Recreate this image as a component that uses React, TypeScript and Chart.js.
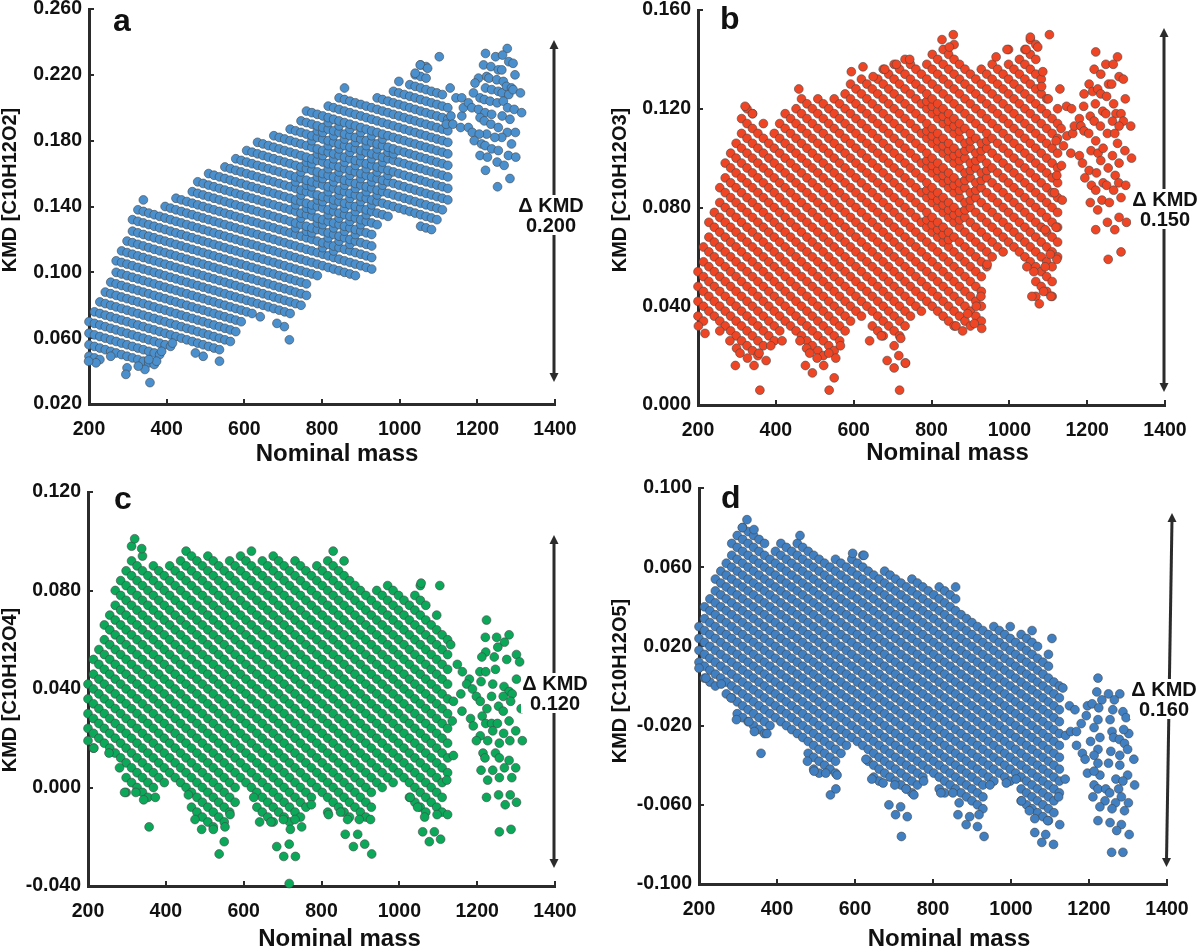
import React, { useEffect, useRef } from "react";
import { Chart, registerables } from "chart.js";

Chart.register(...registerables);

const massColumns = [200,214,228,242,256,270,284,298,312,326,340,354,368,382,396,410,424,438,452,466,480,494,508,522,536,550,564,578,592,606,620,634,648,662,676,690,704,718,732,746,760,774,788,802,816,830,844,858,872,886,900,914,928,942,956,970,984,998,1012,1026,1040,1054,1068,1082,1096,1110,1124];

// KMD values, in thousandths, one list per nominal-mass column
const kmdColumnsA = [
[49,56,63,70],[48,55,62,69,76],[47,54,61,68,75,82],[53,60,67,74,81,88],[52,59,66,73,80,87,94],[51,58,65,72,79,86,93,100,107],[50,57,64,71,78,85,92,99,106,113],[42,49,56,63,70,77,84,91,98,105,112,119],[48,55,62,69,76,83,90,97,104,111,118,125,132],[47,54,61,68,75,82,89,96,103,110,117,124,131,138],[46,53,60,67,74,81,88,95,102,109,116,123,130,137,144],[45,52,59,66,73,80,87,94,101,108,115,122,129,136],[44,51,58,65,72,79,86,93,100,107,114,121,128,135],[50,57,64,71,78,85,92,99,106,113,120,127,134],[56,63,70,77,84,91,98,105,112,119,126,133,140],[55,62,69,76,83,90,97,104,111,118,125,132,139],[61,68,75,82,89,96,103,110,117,124,131,138,145],[60,67,74,81,88,95,102,109,116,123,130,137,144],[59,66,73,80,87,94,101,108,115,122,129,136,143],[58,65,72,79,86,93,100,107,114,121,128,135,142,149],[57,64,71,78,85,92,99,106,113,120,127,134,141,148,155],[56,63,70,77,84,91,98,105,112,119,126,133,140,147,154],[55,62,69,76,83,90,97,104,111,118,125,132,139,146,153,160],[54,61,68,75,82,89,96,103,110,117,124,131,138,145,152,159],[53,60,67,74,81,88,95,102,109,116,123,130,137,144,151,158],[59,66,73,80,87,94,101,108,115,122,129,136,143,150,157,164],[58,65,72,79,86,93,100,107,114,121,128,135,142,149,156,163],[64,71,78,85,92,99,106,113,120,127,134,141,148,155,162,169],[70,77,84,91,98,105,112,119,126,133,140,147,154,161,168],[76,83,90,97,104,111,118,125,132,139,146,153,160,167,174],[75,82,89,96,103,110,117,124,131,138,145,152,159,166,173],[81,88,95,102,109,116,123,130,137,144,151,158,165,172,179],[80,87,94,101,108,115,122,129,136,143,150,157,164,171,178],[79,86,93,100,107,114,121,128,135,142,149,156,163,170,177],[78,85,92,99,106,113,120,127,134,141,148,155,162,169,176,183],[77,84,91,98,105,112,119,126,133,140,147,154,161,168,175,182],[76,83,90,97,104,111,118,125,132,139,146,153,160,167,174,181],[75,82,89,96,103,110,117,124,131,138,145,152,159,166,173,180,187],[81,88,95,102,109,116,123,127,130,137,141,144,151,155,158,165,172,179,186],[80,87,94,101,108,115,122,129,133,136,143,147,150,157,161,164,171,178,185,192],[86,93,100,107,114,121,125,128,135,139,142,149,153,156,163,167,170,177,184,191,198],[99,106,113,120,124,127,134,138,141,148,152,155,162,166,169,176,180,183,190,197],[98,105,112,119,126,130,133,140,144,147,154,158,161,168,172,175,182,186,189,196],[104,111,115,118,125,129,132,139,143,146,153,157,160,167,171,174,181,185,188,195],[103,110,117,121,124,131,135,138,145,149,152,159,163,166,173,177,180,187,191,194,201],[102,109,113,116,123,127,130,137,141,144,151,155,158,165,169,172,179,183,186,193,200],[101,108,115,119,122,129,133,136,143,147,150,157,161,164,171,175,178,185,189,192,199,206],[100,107,114,121,125,128,135,139,142,149,153,156,163,167,170,177,181,184,191,198,205,212],[99,106,113,117,120,127,131,134,141,145,148,155,159,162,169,173,176,183,187,190,197,204],[98,105,112,119,123,126,133,137,140,147,151,154,161,165,168,175,179,182,189,196,203],[104,111,118,125,129,132,139,143,146,153,157,160,167,171,174,181,185,188,195,202],[103,110,117,124,131,135,138,145,149,152,159,163,166,173,177,180,187,194,201],[102,109,116,123,130,137,141,144,151,155,158,165,169,172,179,183,186,193,200],[129,136,143,147,150,157,161,164,171,175,178,185,192,199,206],[135,142,149,153,156,163,167,170,177,181,184,191,198,205],[134,141,148,155,159,162,169,173,176,183,190,197,204],[140,147,154,161,168,172,175,182,189,196,203,210],[139,146,153,160,167,174,181,188,195,202,209,216],[138,145,152,159,166,173,180,187,194,201,208],[137,144,151,158,165,172,179,186,193,200,207,214],[136,143,150,157,164,171,178,185,192,199,206,213,220],[128,135,142,149,156,163,170,177,184,191,198,205,212,219,226],[127,134,141,148,155,162,169,176,183,190,197,204,211,218,225],[126,133,140,147,154,161,168,175,182,189,196,203,210],[132,139,146,153,160,167,174,181,188,195,202,209],[138,145,152,159,166,173,180,187,194,201,208],[144,151,158,165,172,179,186,193,200],
];

const kmdColumnsB = [
[36,42,48,54],[34,40,46,52,58,64],[38,44,50,56,62,68,74],[36,42,48,54,60,66,72,78],[34,40,46,52,58,64,70,76,82,88],[32,38,44,50,56,62,68,74,80,86,92,98],[30,36,42,48,54,60,66,72,78,84,90,96,102],[28,34,40,46,52,58,64,70,76,82,88,94,100,106],[26,32,38,44,50,56,62,68,74,80,86,92,98,104,110,116],[24,30,36,42,48,54,60,66,72,78,84,90,96,102,108,114,120],[22,28,34,40,46,52,58,64,70,76,82,88,94,100,106,112,118],[20,26,32,38,44,50,56,62,68,74,80,86,92,98,104,110],[24,30,36,42,48,54,60,66,72,78,84,90,96,102,108,114],[28,34,40,46,52,58,64,70,76,82,88,94,100,106],[26,32,38,44,50,56,62,68,74,80,86,92,98,104,110],[30,36,42,48,54,60,66,72,78,84,90,96,102,108,114],[34,40,46,52,58,64,70,76,82,88,94,100,106,112,118],[32,38,44,50,56,62,68,74,80,86,92,98,104,110,116],[30,36,42,48,54,60,66,72,78,84,90,96,102,108,114,120],[28,34,40,46,52,58,64,70,76,82,88,94,100,106,112,118,124],[26,32,38,44,50,56,62,68,74,80,86,92,98,104,110,116,122],[24,30,36,42,48,54,60,66,72,78,84,90,96,102,108,114,120],[22,28,34,40,46,52,58,64,70,76,82,88,94,100,106,112,118,124],[20,26,32,38,44,50,56,62,68,74,80,86,92,98,104,110,116,122],[24,30,36,42,48,54,60,66,72,78,84,90,96,102,108,114,120],[22,28,34,40,46,52,58,64,70,76,82,88,94,100,106,112,118,124],[26,32,38,44,50,56,62,68,74,80,86,92,98,104,110,116,122],[30,36,42,48,54,60,66,72,78,84,90,96,102,108,114,120,126],[34,40,46,52,58,64,70,76,82,88,94,100,106,112,118,124,130],[38,44,50,56,62,68,74,80,86,92,98,104,110,116,122,128],[36,42,48,54,60,66,72,78,84,90,96,102,108,114,120,126,132],[40,46,52,58,64,70,76,82,88,94,100,106,112,118,124,130],[32,38,44,50,56,62,68,74,80,86,92,98,104,110,116,122,128],[30,36,42,48,54,60,66,72,78,84,90,96,102,108,114,120,126,132],[28,34,40,46,52,58,64,70,76,82,88,94,100,106,112,118,124,130,136],[32,38,44,50,56,62,68,74,80,86,92,98,104,110,116,122,128,134],[24,30,36,42,48,54,60,66,72,78,84,90,96,102,108,114,120,126,132,138],[28,34,40,46,52,58,64,70,76,82,88,94,100,106,112,118,124,130,136],[32,38,44,50,56,62,68,74,80,86,92,98,104,110,116,122,128,134,140],[36,42,48,54,60,66,72,78,84,90,96,102,108,114,120,126,132,138],[40,46,52,58,64,70,76,82,88,94,100,106,112,118,124,130,136],[38,44,50,56,62,68,74,80,86,92,98,104,110,116,122,128,134],[42,48,54,60,66,72,75,78,84,87,90,96,99,102,108,111,114,120,123,126,132,138],[40,46,52,58,64,70,73,76,82,85,88,94,97,100,106,109,112,118,121,124,130,136,142],[38,44,50,56,62,68,71,74,80,83,86,92,95,98,104,107,110,116,119,122,128,134,140],[36,42,48,54,60,66,69,72,78,81,84,90,93,96,102,105,108,114,117,120,126,132,138,144],[34,40,46,52,58,64,67,70,76,79,82,88,91,94,100,103,106,112,115,118,124,130,136,142],[32,38,44,50,56,62,68,74,77,80,86,89,92,98,101,104,110,113,116,122,128,134,140,146],[36,42,48,54,60,66,72,75,78,84,87,90,96,99,102,108,111,114,120,126,132,138],[34,40,46,52,58,64,70,76,79,82,88,91,94,100,103,106,112,118,124,130,136],[32,38,44,50,56,62,68,74,80,83,86,92,95,98,104,107,110,116,122,128,134],[36,42,48,54,60,66,72,78,84,87,90,96,99,102,108,114,120,126,132],[34,40,46,52,58,64,70,76,82,88,91,94,100,103,106,112,118,124,130,136],[56,62,68,74,80,86,92,95,98,104,107,110,116,122,128,134],[60,66,72,78,84,90,96,102,108,114,120,126,132,138],[64,70,76,82,88,94,100,106,112,118,124,130,136],[62,68,74,80,86,92,98,104,110,116,122,128,134],[66,72,78,84,90,96,102,108,114,120,126,132,138,144],[64,70,76,82,88,94,100,106,112,118,124,130,136],[62,68,74,80,86,92,98,104,110,116,122,128,134,140],[60,66,72,78,84,90,96,102,108,114,120,126,132,138,144],[58,64,70,76,82,88,94,100,106,112,118,124,130,136,142,148],[44,50,56,62,68,74,80,86,92,98,104,110,116,122,128,134,140,146],[48,54,60,66,72,78,84,90,96,102,108,114,120,126,132],[46,52,58,64,70,76,82,88,94,100,106,112,118,124],[44,50,56,62,68,74,80,86,92,98,104,110,116],[60,66,72,78,84,90,96,102,108,114,120],
];

const kmdColumnsC = [
[24,30,36,42],[16,22,28,34,40,46,52],[20,26,32,38,44,50,56],[18,24,30,36,42,48,54,60,66],[16,22,28,34,40,46,52,58,64,70],[14,20,26,32,38,44,50,56,62,68,74,80],[12,18,24,30,36,42,48,54,60,66,72,78,84],[-2,4,10,16,22,28,34,40,46,52,58,64,70,76,82,88],[2,8,14,20,26,32,38,44,50,56,62,68,74,80,86,92,98],[0,6,12,18,24,30,36,42,48,54,60,66,72,78,84,90],[-2,4,10,16,22,28,34,40,46,52,58,64,70,76,82,88,94],[-4,2,8,14,20,26,32,38,44,50,56,62,68,74,80,86],[0,6,12,18,24,30,36,42,48,54,60,66,72,78,84,90],[4,10,16,22,28,34,40,46,52,58,64,70,76,82,88],[2,8,14,20,26,32,38,44,50,56,62,68,74,80,86],[6,12,18,24,30,36,42,48,54,60,66,72,78,84,90],[4,10,16,22,28,34,40,46,52,58,64,70,76,82,88],[2,8,14,20,26,32,38,44,50,56,62,68,74,80,86,92],[0,6,12,18,24,30,36,42,48,54,60,66,72,78,84,90,96],[-8,-2,4,10,16,22,28,34,40,46,52,58,64,70,76,82,88,94],[-10,-4,2,8,14,20,26,32,38,44,50,56,62,68,74,80,86,92],[-12,-6,0,6,12,18,24,30,36,42,48,54,60,66,72,78,84,90],[-14,-8,-2,4,10,16,22,28,34,40,46,52,58,64,70,76,82,88,94],[-16,-10,-4,2,8,14,20,26,32,38,44,50,56,62,68,74,80,86,92],[-12,-6,0,6,12,18,24,30,36,42,48,54,60,66,72,78,84,90],[-14,-8,-2,4,10,16,22,28,34,40,46,52,58,64,70,76,82,88],[-10,-4,2,8,14,20,26,32,38,44,50,56,62,68,74,80,86,92],[-6,0,6,12,18,24,30,36,42,48,54,60,66,72,78,84,90],[4,10,16,22,28,34,40,46,52,58,64,70,76,82,88,94],[2,8,14,20,26,32,38,44,50,56,62,68,74,80,86,92],[0,6,12,18,24,30,36,42,48,54,60,66,72,78,84,90,96],[-8,-2,4,10,16,22,28,34,40,46,52,58,64,70,76,82,88],[-10,-4,2,8,14,20,26,32,38,44,50,56,62,68,74,80,86,92],[-12,-6,0,6,12,18,24,30,36,42,48,54,60,66,72,78,84,90],[-14,-8,-2,4,10,16,22,28,34,40,46,52,58,64,70,76,82,88,94],[-10,-4,2,8,14,20,26,32,38,44,50,56,62,68,74,80,86,92],[-12,-6,0,6,12,18,24,30,36,42,48,54,60,66,72,78,84,90],[-14,-8,-2,4,10,16,22,28,34,40,46,52,58,64,70,76,82,88],[-10,-4,2,8,14,20,26,32,38,44,50,56,62,68,74,80,86,92],[-12,-6,0,6,12,18,24,30,36,42,48,54,60,66,72,78,84,90],[-8,-2,4,10,16,22,28,34,40,46,52,58,64,70,76,82,88],[-4,2,8,14,20,26,32,38,44,50,56,62,68,74,80,86],[0,6,12,18,24,30,36,42,48,54,60,66,72,78,84,90],[-2,4,10,16,22,28,34,40,46,52,58,64,70,76,82,88],[-10,-4,2,8,14,20,26,32,38,44,50,56,62,68,74,80,86,92],[-6,0,6,12,18,24,30,36,42,48,54,60,66,72,78,84,90,96],[-8,-2,4,10,16,22,28,34,40,46,52,58,64,70,76,82,88],[-10,-4,2,8,14,20,26,32,38,44,50,56,62,68,74,80,86,92],[-12,-6,0,6,12,18,24,30,36,42,48,54,60,66,72,78,84],[-8,-2,4,10,16,22,28,34,40,46,52,58,64,70,76,82],[-10,-4,2,8,14,20,26,32,38,44,50,56,62,68,74,80],[-12,-6,0,6,12,18,24,30,36,42,48,54,60,66,72,78],[-8,-2,4,10,16,22,28,34,40,46,52,58,64,70,76],[2,8,14,20,26,32,38,44,50,56,62,68,74,80],[0,6,12,18,24,30,36,42,48,54,60,66,72,78],[4,10,16,22,28,34,40,46,52,58,64,70,76,82],[2,8,14,20,26,32,38,44,50,56,62,68,74,80],[6,12,18,24,30,36,42,48,54,60,66,72,78],[4,10,16,22,28,34,40,46,52,58,64,70,76],[-4,2,8,14,20,26,32,38,44,50,56,62,68,74],[-6,0,6,12,18,24,30,36,42,48,54,60,66,72,78],[-8,-2,4,10,16,22,28,34,40,46,52,58,64,70,76,82],[-10,-4,2,8,14,20,26,32,38,44,50,56,62,68,74],[-6,0,6,12,18,24,30,36,42,48,54,60,66],[-8,-2,4,10,16,22,28,34,40,46,52,58,64,70],[-10,-4,2,8,14,20,26,32,38,44,50,56,62],[6,12,18,24,30,36,42,48,54,60],
];

const kmdColumnsD = [
[12,18,24,30],[4,10,16,22,28,34,40],[2,8,14,20,26,32,38,44],[0,6,12,18,24,30,36,42,48,54],[4,10,16,22,28,34,40,46,52,58],[-4,2,8,14,20,26,32,38,44,50,56,62],[-6,0,6,12,18,24,30,36,42,48,54,60,66,72],[-14,-8,-2,4,10,16,22,28,34,40,46,52,58,64,70,76],[-16,-10,-4,2,8,14,20,26,32,38,44,50,56,62,68,74,80],[-18,-12,-6,0,6,12,18,24,30,36,42,48,54,60,66,72,78],[-20,-14,-8,-2,4,10,16,22,28,34,40,46,52,58,64,70,76],[-22,-16,-10,-4,2,8,14,20,26,32,38,44,50,56,62,68,74],[-24,-18,-12,-6,0,6,12,18,24,30,36,42,48,54,60,66,72],[-20,-14,-8,-2,4,10,16,22,28,34,40,46,52,58,64],[-16,-10,-4,2,8,14,20,26,32,38,44,50,56,62,68],[-18,-12,-6,0,6,12,18,24,30,36,42,48,54,60,66,72],[-20,-14,-8,-2,4,10,16,22,28,34,40,46,52,58,64,70],[-22,-16,-10,-4,2,8,14,20,26,32,38,44,50,56,62,68],[-24,-18,-12,-6,0,6,12,18,24,30,36,42,48,54,60,66,72],[-26,-20,-14,-8,-2,4,10,16,22,28,34,40,46,52,58,64,70],[-34,-28,-22,-16,-10,-4,2,8,14,20,26,32,38,44,50,56,62,68],[-42,-36,-30,-24,-18,-12,-6,0,6,12,18,24,30,36,42,48,54,60,66],[-44,-38,-32,-26,-20,-14,-8,-2,4,10,16,22,28,34,40,46,52,58,64],[-40,-34,-28,-22,-16,-10,-4,2,8,14,20,26,32,38,44,50,56,62],[-42,-36,-30,-24,-18,-12,-6,0,6,12,18,24,30,36,42,48,54,60],[-44,-38,-32,-26,-20,-14,-8,-2,4,10,16,22,28,34,40,46,52,58,64],[-34,-28,-22,-16,-10,-4,2,8,14,20,26,32,38,44,50,56,62],[-30,-24,-18,-12,-6,0,6,12,18,24,30,36,42,48,54,60],[-26,-20,-14,-8,-2,4,10,16,22,28,34,40,46,52,58,64],[-28,-22,-16,-10,-4,2,8,14,20,26,32,38,44,50,56,62],[-30,-24,-18,-12,-6,0,6,12,18,24,30,36,42,48,54,60,66],[-38,-32,-26,-20,-14,-8,-2,4,10,16,22,28,34,40,46,52,58],[-46,-40,-34,-28,-22,-16,-10,-4,2,8,14,20,26,32,38,44,50,56],[-48,-42,-36,-30,-24,-18,-12,-6,0,6,12,18,24,30,36,42,48,54],[-44,-38,-32,-26,-20,-14,-8,-2,4,10,16,22,28,34,40,46,52,58],[-46,-40,-34,-28,-22,-16,-10,-4,2,8,14,20,26,32,38,44,50,56],[-48,-42,-36,-30,-24,-18,-12,-6,0,6,12,18,24,30,36,42,48,54],[-50,-44,-38,-32,-26,-20,-14,-8,-2,4,10,16,22,28,34,40,46,52],[-52,-46,-40,-34,-28,-22,-16,-10,-4,2,8,14,20,26,32,38,44,50],[-54,-48,-42,-36,-30,-24,-18,-12,-6,0,6,12,18,24,30,36,42,48,54],[-50,-44,-38,-32,-26,-20,-14,-8,-2,4,10,16,22,28,34,40,46,52],[-46,-40,-34,-28,-22,-16,-10,-4,2,8,14,20,26,32,38,44,50],[-42,-36,-30,-24,-18,-12,-6,0,6,12,18,24,30,36,42,48],[-44,-38,-32,-26,-20,-14,-8,-2,4,10,16,22,28,34,40,46],[-52,-46,-40,-34,-28,-22,-16,-10,-4,2,8,14,20,26,32,38,44,50],[-54,-48,-42,-36,-30,-24,-18,-12,-6,0,6,12,18,24,30,36,42,48],[-50,-44,-38,-32,-26,-20,-14,-8,-2,4,10,16,22,28,34,40,46],[-52,-46,-40,-34,-28,-22,-16,-10,-4,2,8,14,20,26,32,38,44,50],[-54,-48,-42,-36,-30,-24,-18,-12,-6,0,6,12,18,24,30,36],[-56,-50,-44,-38,-32,-26,-20,-14,-8,-2,4,10,16,22,28,34],[-58,-52,-46,-40,-34,-28,-22,-16,-10,-4,2,8,14,20,26,32],[-60,-54,-48,-42,-36,-30,-24,-18,-12,-6,0,6,12,18,24,30],[-62,-56,-50,-44,-38,-32,-26,-20,-14,-8,-2,4,10,16,22,28],[-46,-40,-34,-28,-22,-16,-10,-4,2,8,14,20,26],[-48,-42,-36,-30,-24,-18,-12,-6,0,6,12,18,24,30],[-44,-38,-32,-26,-20,-14,-8,-2,4,10,16,22,28],[-46,-40,-34,-28,-22,-16,-10,-4,2,8,14,20,26],[-48,-42,-36,-30,-24,-18,-12,-6,0,6,12,18,24,30],[-44,-38,-32,-26,-20,-14,-8,-2,4,10,16,22],[-58,-52,-46,-40,-34,-28,-22,-16,-10,-4,2,8,14,20,26],[-60,-54,-48,-42,-36,-30,-24,-18,-12,-6,0,6,12,18,24],[-62,-56,-50,-44,-38,-32,-26,-20,-14,-8,-2,4,10,16,22,28],[-64,-58,-52,-46,-40,-34,-28,-22,-16,-10,-4,2,8,14,20],[-66,-60,-54,-48,-42,-36,-30,-24,-18,-12,-6,0,6,12],[-68,-62,-56,-50,-44,-38,-32,-26,-20,-14,-8,-2,4,10,16],[-64,-58,-52,-46,-40,-34,-28,-22,-16,-10,-4,2],[-54,-48,-42,-36,-30,-24,-18,-12,-6,0],
];

// Separately read points: outliers, the bridge and the island at high mass [mass, KMD thousandths]
const separateA = [[357,33],[295,38],[256,49],[218,45],[199,46],[344,41],[327,43],[536,46],[494,49],[474,51],[716,59],[703,67],[684,69],[641,73],[415,57],[387,52],[374,46],[354,47],[1102,231],[1053,226],[1072,224],[1040,221],[1130,212],[1145,206],[1160,206],[1132,195],[1160,195],[1120,190],[1137,190],[1157,188],[1164,200],[1177,203],[1186,200],[1177,188],[1187,185],[1221,233],[1277,236],[1247,231],[1265,232],[1281,228],[1292,227],[1216,226],[1235,225],[1254,223],[1263,223],[1297,220],[1203,218],[1194,215],[1224,219],[1230,218],[1250,217],[1267,216],[1221,212],[1237,211],[1254,210],[1264,209],[1275,213],[1288,212],[1281,208],[1292,211],[1311,209],[1190,209],[1207,206],[1218,205],[1233,204],[1251,203],[1267,204],[1278,200],[1295,199],[1314,197],[1203,199],[1220,197],[1237,196],[1264,195],[1284,193],[1207,194],[1218,192],[1235,190],[1254,188],[1277,185],[1298,185],[1263,182],[1288,178],[1245,182],[1224,184],[1205,184],[1192,180],[1211,178],[1220,177],[1237,175],[1254,174],[1207,171],[1226,170],[1280,171],[1299,170],[1251,167],[1269,165],[1221,162],[1284,157],[1252,152]];
const separateB = [[201,32],[218,29],[256,30],[282,26],[299,23],[308,21],[296,16],[327,19],[344,16],[375,18],[357,21],[387,24],[359,6],[416,26],[462,26],[479,23],[487,21],[506,19],[523,16],[476,16],[494,13],[554,19],[536,21],[566,24],[550,11],[537,6],[641,26],[671,28],[686,18],[704,15],[716,20],[733,17],[718,6],[733,17],[721,27],[321,121],[340,118],[459,128],[594,135],[624,137],[650,133],[680,136],[710,138],[744,140],[856,150],[827,148],[846,145],[966,141],[994,144],[1043,144],[1054,149],[1103,150],[1073,145],[1086,135],[1100,124],[1083,129],[943,57],[927,44],[915,40],[893,37],[910,33],[929,31],[863,32],[880,30],[1122,59],[1105,61],[1092,56],[1063,54],[1045,56],[1088,46],[1107,44],[1077,41],[1058,44],[1130,128],[1147,121],[1160,120],[1133,112],[1148,109],[1163,110],[1120,107],[1139,105],[1134,97],[1122,93],[1136,83],[1116,86],[1120,72],[1092,71],[1222,143],[1278,141],[1248,138],[1267,138],[1218,136],[1235,134],[1255,130],[1263,130],[1282,133],[1293,132],[1205,130],[1192,126],[1214,127],[1227,128],[1235,126],[1250,125],[1298,124],[1268,122],[1221,122],[1191,121],[1240,119],[1248,118],[1274,118],[1287,118],[1208,117],[1265,115],[1293,115],[1218,115],[1234,113],[1282,113],[1312,113],[1180,116],[1167,113],[1184,113],[1192,111],[1204,110],[1252,110],[1271,110],[1222,107],[1278,106],[1210,103],[1228,102],[1241,104],[1265,101],[1297,103],[1314,100],[1158,102],[1180,101],[1188,98],[1235,99],[1282,98],[1205,95],[1224,94],[1254,96],[1272,93],[1194,92],[1241,90],[1250,89],[1281,90],[1299,89],[1211,89],[1222,87],[1268,87],[1287,84],[1238,83],[1208,82],[1257,82],[1227,79],[1282,76],[1252,74],[1301,74],[1271,71],[1222,71],[1287,62],[1254,59]];
const separateC = [[200,19],[215,16],[254,14],[281,8],[294,-2],[323,-2],[343,-5],[373,-4],[357,-16],[320,101],[338,97],[458,-3],[475,-13],[492,-17],[522,-17],[552,-16],[550,-22],[537,-27],[565,-11],[626,-4],[641,-14],[670,-14],[702,-13],[732,-13],[749,-16],[720,-17],[685,-24],[717,-23],[703,-28],[733,-28],[717,-39],[774,-7],[818,-11],[849,-10],[867,-13],[897,-13],[926,-13],[861,-19],[893,-19],[882,-24],[911,-23],[929,-27],[1028,-4],[1047,-8],[1065,-12],[1097,-11],[1124,-11],[1060,-18],[1090,-18],[1077,-22],[1106,-21],[1104,82],[1056,83],[1132,58],[1149,50],[1136,27],[1161,31],[1139,35],[1139,13],[1122,3],[1162,47],[1224,68],[1221,61],[1250,61],[1282,62],[1270,59],[1253,57],[1222,55],[1212,53],[1244,53],[1276,52],[1301,54],[1309,51],[1207,47],[1247,48],[1222,47],[1180,44],[1210,43],[1240,42],[1269,41],[1301,44],[1282,39],[1290,38],[1173,42],[1188,40],[1158,38],[1198,37],[1208,35],[1267,37],[1237,37],[1286,35],[1255,33],[1313,32],[1225,32],[1267,31],[1213,29],[1183,28],[1282,27],[1222,26],[1237,26],[1252,26],[1190,25],[1299,23],[1240,23],[1268,22],[1208,21],[1198,19],[1227,19],[1257,18],[1316,19],[1284,19],[1215,14],[1247,14],[1220,12],[1257,12],[1282,11],[1299,8],[1270,8],[1210,7],[1240,7],[1227,3],[1257,4],[1289,4],[1224,-4],[1255,-3],[1285,-3],[1272,-7],[1301,-6],[1257,-18],[1287,-17]];
const separateD = [[200,9],[218,4],[257,1],[282,-6],[296,-17],[328,-18],[342,-23],[374,-24],[359,-34],[311,80],[323,84],[341,79],[459,76],[594,67],[623,66],[478,-38],[495,-43],[525,-44],[554,-45],[537,-55],[551,-52],[628,-37],[643,-47],[672,-49],[702,-50],[731,-52],[776,-48],[687,-60],[717,-61],[704,-65],[734,-66],[719,-76],[751,-55],[820,-54],[851,-54],[867,-59],[864,-65],[894,-66],[885,-70],[914,-71],[931,-76],[918,-65],[946,-50],[988,-49],[1013,-47],[1027,-58],[1047,-63],[1061,-67],[1094,-68],[1125,-70],[1061,-74],[1089,-75],[1079,-79],[1109,-80],[1122,-56],[1139,-47],[1105,24],[1133,-1],[1150,-10],[1164,-12],[1140,-25],[1153,-23],[1168,-23],[1180,-19],[1168,-30],[1193,-15],[1183,-34],[1190,-37],[1223,4],[1220,-3],[1196,-10],[1208,-9],[1233,-7],[1250,-4],[1279,-4],[1265,-7],[1225,-11],[1261,-12],[1287,-13],[1295,-16],[1254,-17],[1223,-17],[1302,-24],[1259,-23],[1289,-22],[1213,-21],[1204,-28],[1228,-26],[1263,-26],[1278,-27],[1291,-29],[1223,-32],[1256,-33],[1299,-32],[1213,-35],[1279,-35],[1315,-37],[1223,-39],[1250,-39],[1228,-45],[1279,-40],[1196,-44],[1213,-43],[1299,-45],[1269,-47],[1287,-48],[1317,-50],[1213,-50],[1223,-52],[1243,-52],[1253,-54],[1276,-52],[1210,-56],[1283,-56],[1241,-58],[1268,-59],[1228,-61],[1301,-59],[1259,-62],[1291,-63],[1223,-68],[1254,-69],[1283,-70],[1271,-73],[1303,-75],[1258,-84],[1287,-84]];

const massTicks = [200, 1400, 200];
const rangeA = [0.02, 0.26, 0.04];
const rangeB = [0, 0.16, 0.04];
const rangeC = [-0.04, 0.12, 0.04];
const rangeD = [-0.1, 0.1, 0.04];

const panels = [
  { letter: "a", yTitle: "KMD [C10H12O2]", columns: kmdColumnsA, separate: separateA, range: rangeA, fill: "#4a90cf", box: [0, 0, 600, 470], area: [89, 9, 555, 404], xShift: [15, -1], yShift: [-2, 0], letterAt: [113, 2], delta: "0.200", deltaAt: [551, 195], arrow: [554, 40, 554, 382] },
  { letter: "b", yTitle: "KMD [C10H12O3]", columns: kmdColumnsB, separate: separateB, range: rangeB, fill: "#f04524", box: [600, 0, 600, 470], area: [98, 10, 565, 405], xShift: [16, -2], yShift: [8, 0], letterAt: [720, 0], delta: "0.150", deltaAt: [1165, 189], arrow: [1164, 28, 1164, 392] },
  { letter: "c", yTitle: "KMD [C10H12O4]", columns: kmdColumnsC, separate: separateC, range: rangeC, fill: "#0aa858", box: [0, 470, 600, 477], area: [88, 22, 555, 416], xShift: [18, 7], yShift: [-2, 0], letterAt: [114, 480], delta: "0.120", deltaAt: [555, 673], arrow: [554, 535, 554, 868] },
  { letter: "d", yTitle: "KMD [C10H12O5]", columns: kmdColumnsD, separate: separateD, range: rangeD, fill: "#3f7fc2", box: [600, 470, 600, 477], area: [99, 18, 567, 414], xShift: [16, 7], yShift: [8, 0], letterAt: [721, 479], delta: "0.160", deltaAt: [1164, 679], arrow: [1172, 513, 1166.5, 867] },
];

const FONT = "'Liberation Sans', Arial, sans-serif";
const INK = "#2b2b2b";

function Panel({ p }: { p: (typeof panels)[number] }) {
  const ref = useRef<HTMLCanvasElement | null>(null);
  useEffect(() => {
    const [, top, w, h] = p.box;
    const [l, t, r, b] = p.area;
    const points: { x: number; y: number }[] = [];
    p.columns.forEach((ys, i) => ys.forEach((v) => points.push({ x: massColumns[i], y: v / 1000 })));
    p.separate.forEach(([m, v]) => points.push({ x: m, y: v / 1000 }));
    // the y-axis title of the figure sits above the middle of the axis in the upper row
    const titleCentre = top === 0 ? 190 : p.letter === "c" ? 220 : 211;
    const chart = new Chart(ref.current as HTMLCanvasElement, {
      type: "scatter",
      data: {
        datasets: [
          {
            label: p.yTitle,
            data: points,
            backgroundColor: p.fill,
            borderColor: "rgba(70,70,70,0.75)",
            borderWidth: 0.8,
            pointRadius: 4.4,
            clip: false,
          } as any,
        ],
      },
      options: {
        responsive: false,
        animation: false,
        events: [],
        layout: { padding: { top: t, right: w - r, left: 0, bottom: 0 } },
        plugins: { legend: { display: false }, tooltip: { enabled: false } },
        scales: {
          x: {
            type: "linear",
            min: massTicks[0],
            max: massTicks[1],
            afterFit: (s: any) => {
              s.height = h - b;
              s.paddingLeft = 0;
              s.paddingRight = 0;
            },
            border: { display: true, color: INK, width: 3 },
            grid: { drawOnChartArea: false, drawTicks: true, tickLength: -5, color: INK, lineWidth: 2 },
            ticks: {
              stepSize: massTicks[2],
              maxRotation: 0,
              autoSkip: false,
              color: "#111",
              padding: 19,
              font: { family: FONT, size: 19.5, weight: "bold" },
              callback: (v: any) => String(v),
            },
            title: { display: true, text: "Nominal mass", color: "#111", padding: 0, font: { family: FONT, size: 24, weight: "bold" } },
          },
          y: {
            type: "linear",
            min: p.range[0],
            max: p.range[1],
            afterFit: (s: any) => {
              s.width = l;
              s.paddingTop = 0;
              s.paddingBottom = 0;
            },
            border: { display: true, color: INK, width: 3 },
            grid: { drawOnChartArea: false, drawTicks: true, tickLength: -5, color: INK, lineWidth: 2 },
            ticks: {
              stepSize: p.range[2],
              autoSkip: false,
              color: "#111",
              padding: 12,
              font: { family: FONT, size: 19.5, weight: "bold" },
              callback: (v: any) => (Math.abs(Number(v)) < 1e-9 ? 0 : Number(v)).toFixed(3),
            },
            title: { display: true, text: p.yTitle, color: "#111", padding: 0, font: { family: FONT, size: 20, weight: "bold" } },
          },
        },
      } as any,
    });
    // the axis titles sit off-centre in the figure
    const shift = (scale: any, [dx, dy]: number[]) => {
      const draw = scale.drawTitle.bind(scale);
      scale.drawTitle = () => {
        chart.ctx.save();
        chart.ctx.translate(dx, dy);
        draw();
        chart.ctx.restore();
      };
    };
    shift(chart.scales.x, p.xShift);
    shift(chart.scales.y, [p.yShift[0], titleCentre - (t + b) / 2]);
    chart.draw();
    return () => chart.destroy();
  }, [p]);
  const [left, top, w, h] = p.box;
  return (
    <canvas
      ref={ref}
      width={w}
      height={h}
      style={{ position: "absolute", left, top, width: w, height: h, display: "block" }}
    />
  );
}

function Arrow({ c }: { c: number[] }) {
  const [x1, y1, x2, y2] = c;
  return (
    <g>
      <line x1={x1} y1={y1 + 6} x2={x2} y2={y2 - 6} stroke={INK} strokeWidth={3} />
      <polygon points={`${x1},${y1} ${x1 - 4.5},${y1 + 9} ${x1 + 4.5},${y1 + 9}`} fill={INK} />
      <polygon points={`${x2},${y2} ${x2 - 4.5},${y2 - 9} ${x2 + 4.5},${y2 - 9}`} fill={INK} />
    </g>
  );
}

export default function App() {
  return (
    <div style={{ position: "absolute", left: 0, top: 0, width: 1200, height: 947, overflow: "hidden", background: "#fff", fontFamily: FONT }}>
      {panels.map((p) => (
        <Panel key={p.letter} p={p} />
      ))}
      <svg width={1200} height={947} style={{ position: "absolute", left: 0, top: 0 }}>
        {panels.map((p) => (
          <Arrow key={p.letter} c={p.arrow} />
        ))}
      </svg>
      {panels.map((p) => (
        <div key={p.letter} style={{ position: "absolute", left: p.letterAt[0], top: p.letterAt[1], fontSize: 32, fontWeight: "bold", lineHeight: "36px", color: "#111" }}>
          {p.letter}
        </div>
      ))}
      {panels.map((p) => (
        <div
          key={p.letter}
          style={{
            position: "absolute",
            left: p.deltaAt[0] - 34,
            top: p.deltaAt[1],
            width: 68,
            textAlign: "center",
            background: "#fff",
            fontSize: 20,
            lineHeight: "20px",
            fontWeight: "bold",
            color: "#111",
            whiteSpace: "nowrap",
          }}
        >
          <div>Δ KMD</div>
          <div>{p.delta}</div>
        </div>
      ))}
    </div>
  );
}
